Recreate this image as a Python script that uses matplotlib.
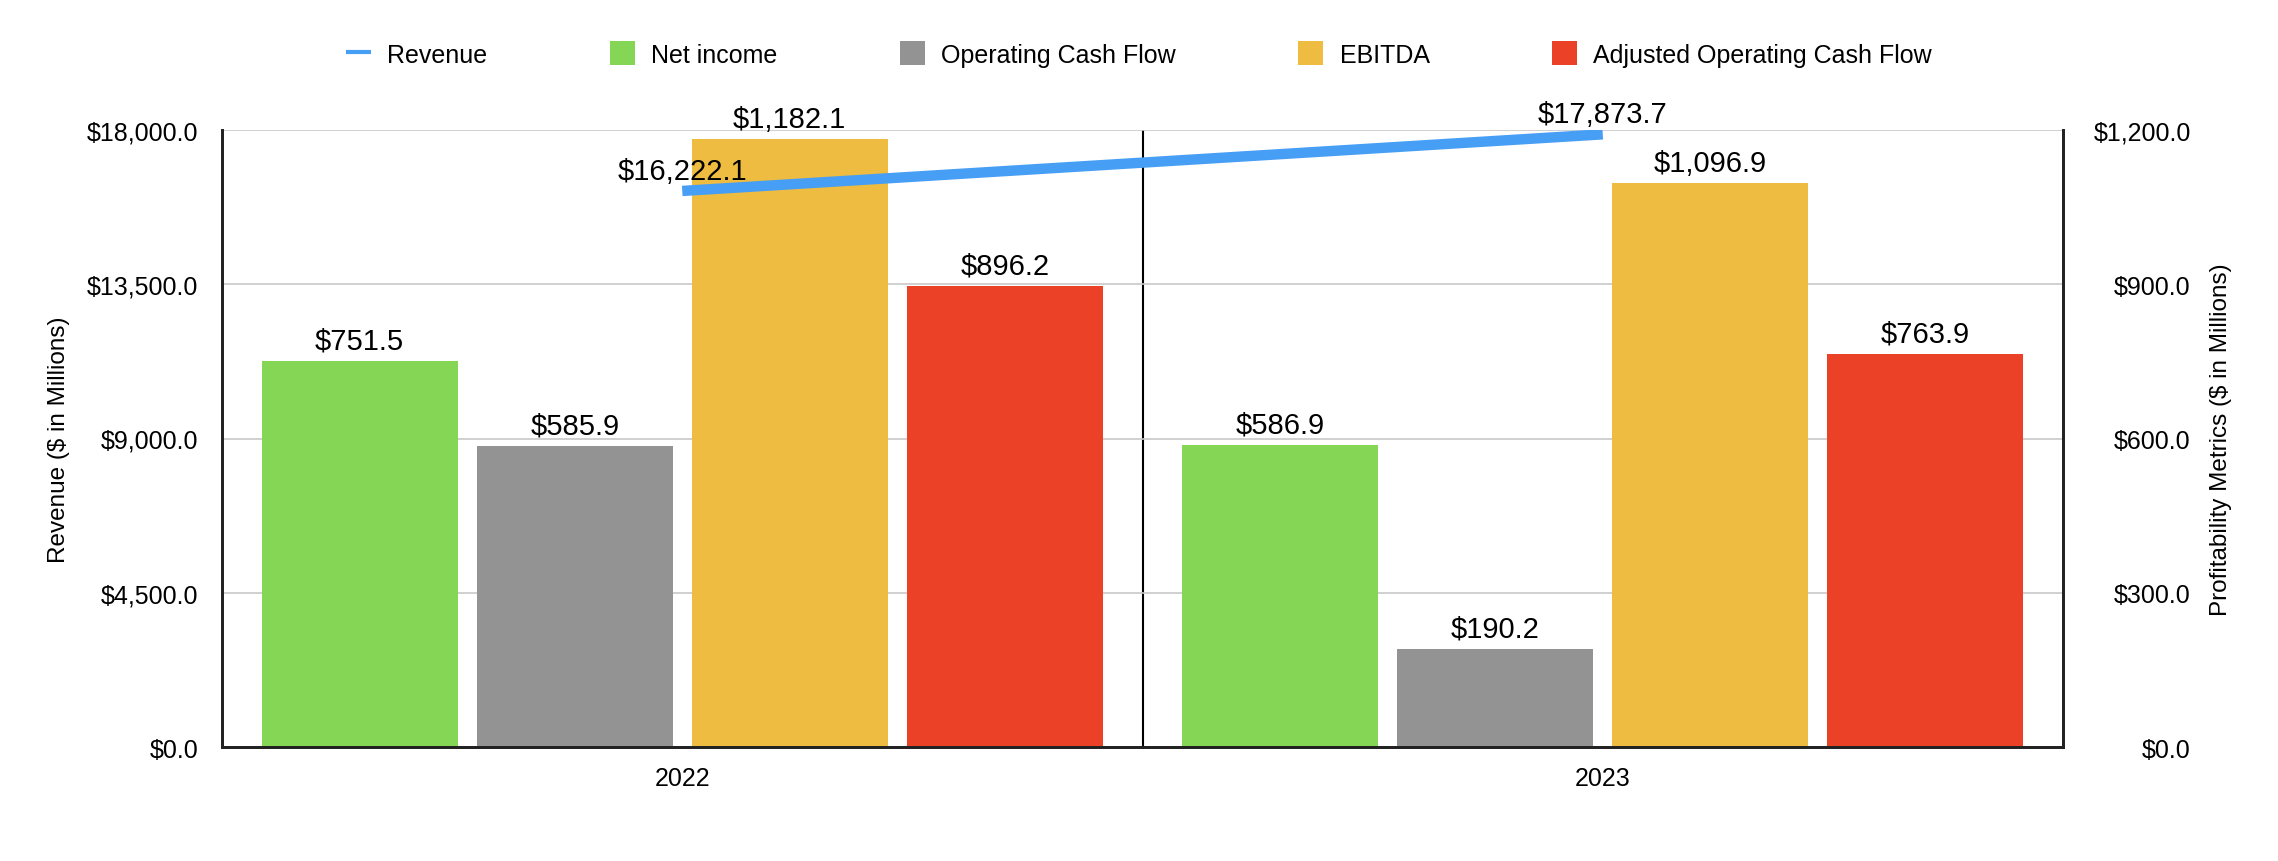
import matplotlib
matplotlib.use('Agg')
import matplotlib.pyplot as plt
from matplotlib.lines import Line2D
import numpy as np

plt.rcParams['font.family'] = ['Liberation Sans', 'DejaVu Sans']

years = ['2022', '2023']
revenue = [16222.1, 17873.7]
net_income = [751.5, 586.9]
op_cash_flow = [585.9, 190.2]
ebitda = [1182.1, 1096.9]
adj_op_cash_flow = [896.2, 763.9]

series = [('Net income', net_income, '#84d654'),
          ('Operating Cash Flow', op_cash_flow, '#939393'),
          ('EBITDA', ebitda, '#eebc40'),
          ('Adjusted Operating Cash Flow', adj_op_cash_flow, '#eb4126')]

fig = plt.figure(figsize=(22.78, 8.62), dpi=100)
ax = fig.add_axes([222/2278, 1-748/862, (2063-222)/2278, (748-131)/862])
ax2 = ax.twinx()

x = np.arange(len(years))
step = 0.2336
width = 0.213
handles = []
for i, (name, vals, col) in enumerate(series):
    bars = ax2.bar(x + (i-1.5)*step, vals, width, color=col, label=name, zorder=2)
    handles.append(bars)
    for xi, v in zip(x + (i-1.5)*step, vals):
        ax2.annotate('${:,.1f}'.format(v), (xi, v), xytext=(0, 4.5), textcoords='offset points',
                     ha='center', va='bottom', fontsize=21)

ax.plot(x, revenue, color='#479ef5', lw=7.5, solid_capstyle='butt', zorder=5)
for xi, v in zip(x, revenue):
    ax.annotate('${:,.1f}'.format(v), (xi, v), xytext=(0, 4.5), textcoords='offset points',
                ha='center', va='bottom', fontsize=21, zorder=6)

ax.set_zorder(ax2.get_zorder()+1)
ax.patch.set_visible(False)

ax.set_xlim(-0.5, 1.5)
ax.set_ylim(0, 18000)
ax2.set_ylim(0, 1200)
ax.set_yticks(np.arange(0, 18001, 4500))
ax2.set_yticks(np.arange(0, 1201, 300))
ax.set_yticklabels(['${:,.1f}'.format(t) for t in np.arange(0, 18001, 4500)])
ax2.set_yticklabels(['${:,.1f}'.format(t) for t in np.arange(0, 1201, 300)])
for lbl in ax2.get_yticklabels():
    lbl.set_ha('right')
ax.set_xticks(x)
ax.set_xticklabels(years)
ax.tick_params(axis='y', length=0, pad=17, labelsize=18)
ax.tick_params(axis='x', length=0, pad=14, labelsize=18)
ax2.tick_params(axis='y', length=0, pad=92, labelsize=18)

ax2.grid(axis='y', color='#c8c8c8', lw=1.2, zorder=0)
ax2.axvline(0.5, color='black', lw=1.5, zorder=1)

for a in (ax, ax2):
    a.spines['top'].set_visible(False)
    for s in ('left', 'right', 'bottom'):
        a.spines[s].set_color('#222222')
        a.spines[s].set_linewidth(2)

ax.set_ylabel('Revenue ($ in Millions)', fontsize=17.5, labelpad=12)
ax2.set_ylabel('Profitability Metrics ($ in Millions)', fontsize=17.5, labelpad=14)

rev_handle = Line2D([], [], color='#479ef5', lw=3, solid_capstyle='butt')
fig.legend([rev_handle] + handles, ['Revenue'] + [s[0] for s in series], loc='center',
           bbox_to_anchor=(0.5, 1-55/862), ncol=5, frameon=False, fontsize=18,
           handlelength=1.0, handleheight=1.1, handletextpad=0.65, columnspacing=4.9)

fig.savefig('out.png', dpi=100)
